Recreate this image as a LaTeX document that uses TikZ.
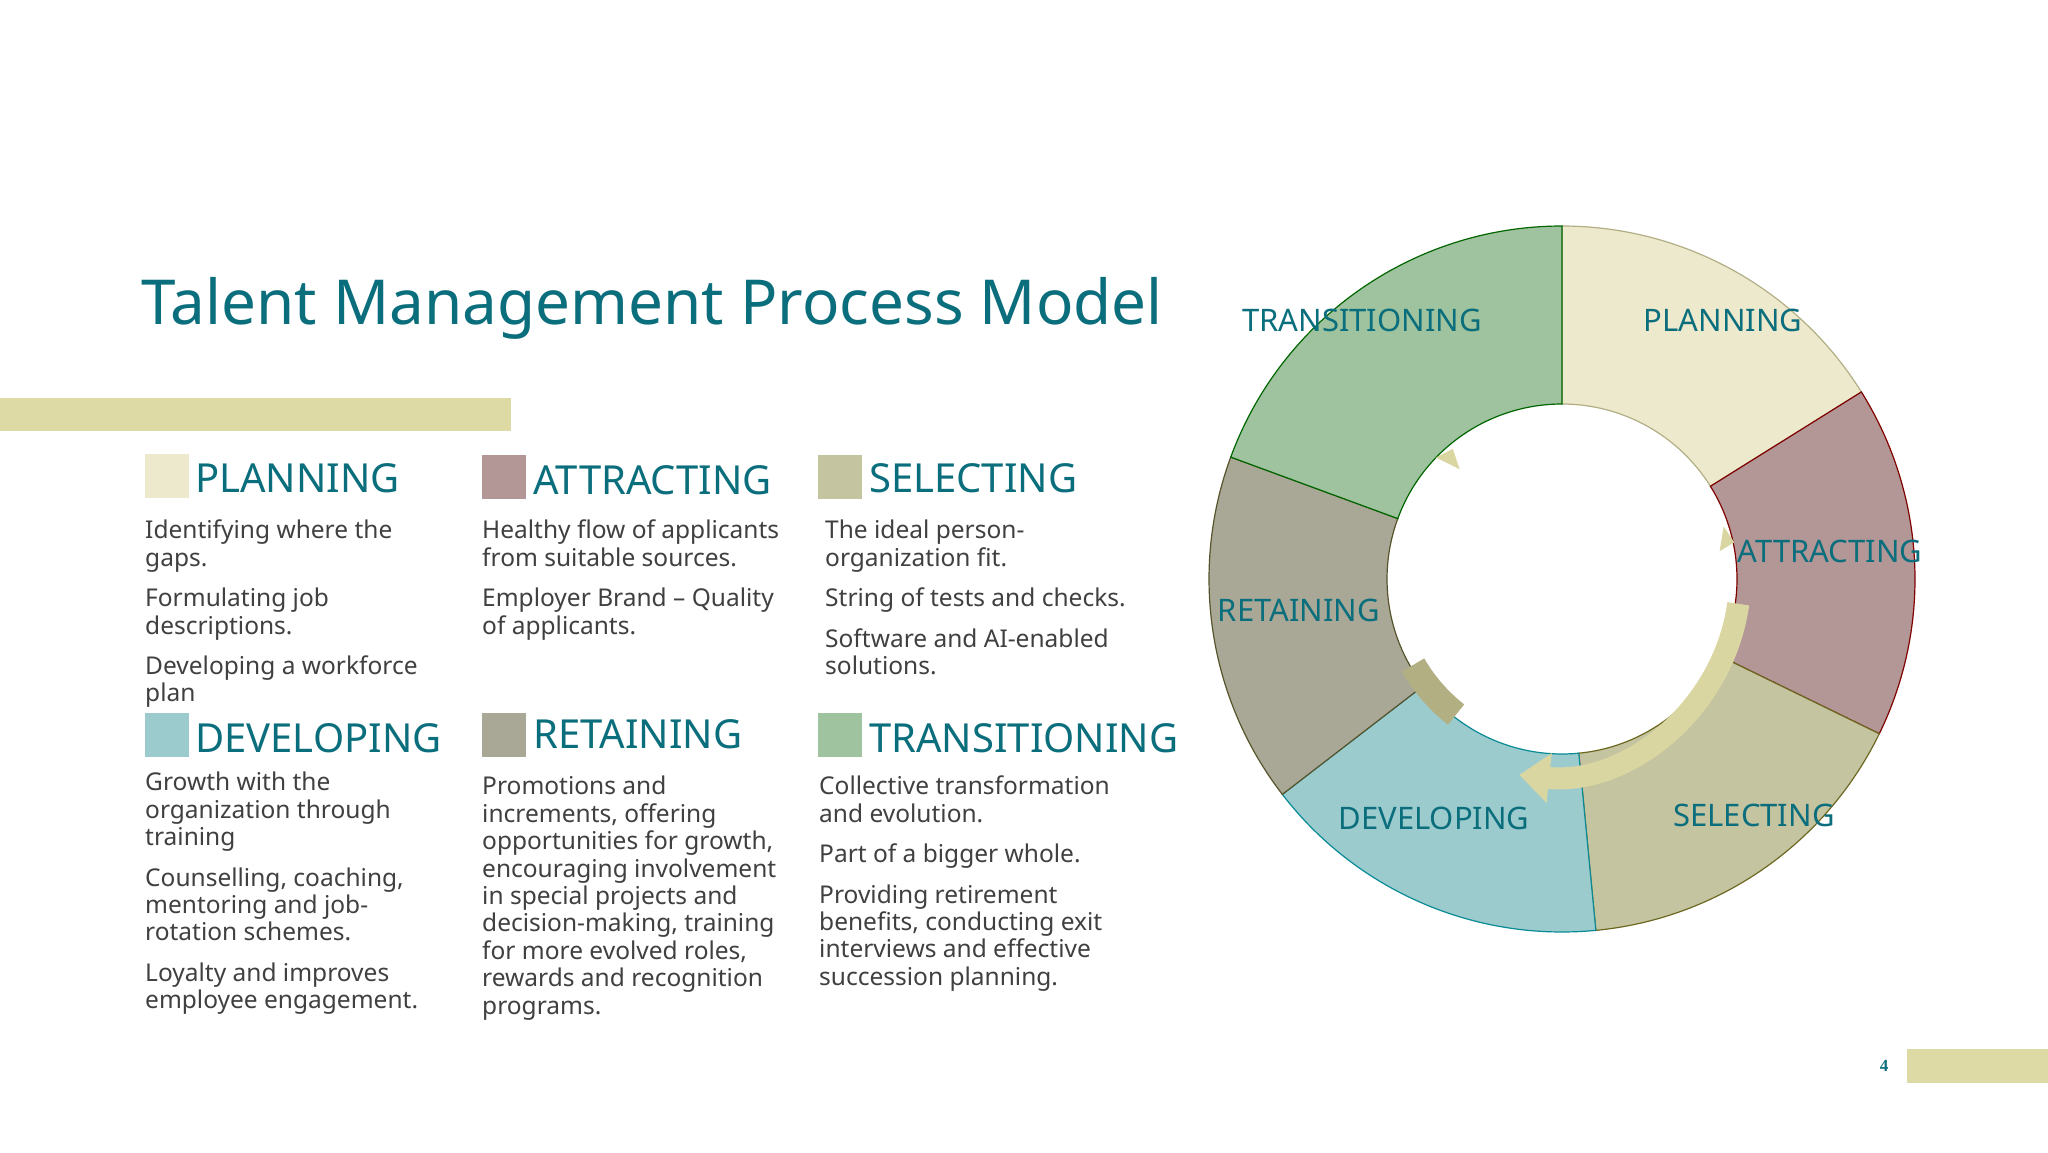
\documentclass[tikz,border=0pt]{standalone}
\usepackage{fontspec}
\setmainfont{Noto Sans}
\usetikzlibrary{arrows.meta}
\definecolor{teal}{HTML}{0B6E7C}
\definecolor{body}{HTML}{404040}
\definecolor{cPla}{HTML}{EDE9CC}
\definecolor{cAtt}{HTML}{B39696}
\definecolor{cSel}{HTML}{C5C4A0}
\definecolor{cDev}{HTML}{9CCBCE}
\definecolor{cRet}{HTML}{A9A896}
\definecolor{cTra}{HTML}{9EC39E}
\definecolor{bar}{HTML}{DEDAA6}
\definecolor{arr}{HTML}{DAD6A2}
\definecolor{arrd}{HTML}{B2AF82}
\tikzset{
  head/.style={anchor=base west,inner sep=0,text=teal,font=\fontsize{40}{44}\selectfont},
  sq/.style={minimum size=44pt,inner sep=0,anchor=north west},
  txt/.style={anchor=north west,inner sep=0,text=body,align=left,font=\fontsize{24.5}{27.4}\selectfont},
  dlab/.style={text=teal,font=\fontsize{31}{34}\selectfont,inner sep=0},
}
\newcommand{\pgap}{\\[13pt]}
\newcommand{\seg}[4]{\filldraw[fill=#3,draw=#4,line width=1.2pt] (#1:353) arc (#1:#2:353) -- (#2:175) arc (#2:#1:175) -- cycle;}
\begin{document}
\begin{tikzpicture}[x=1pt,y=-1pt]
\useasboundingbox[fill=white] (0,0) rectangle (2048,1152);
% title
\node[anchor=base west,inner sep=0,text=teal,font=\fontsize{62}{66}\bfseries\selectfont] (title) at (141,324) {Talent Management Process Model};
\fill[bar] (0,398) rectangle (511,431);
\fill[bar] (1907,1049) rectangle (2048,1083);
\node[text=teal,font=\fontsize{17}{20}\bfseries\rmfamily\selectfont] (pg) at (1884,1066) {\fontspec{Liberation Serif}\bfseries 4};
% row 1
\node[sq,fill=cPla] (s1) at (145,454) {};
\node[head] (h1) at (195,492) {PLANNING};
\node[txt] (t1) at (145,520) {Identifying where the\\gaps.\pgap Formulating job\\descriptions.\pgap Developing a workforce\\plan};
\node[sq,fill=cAtt] (s2) at (482,455) {};
\node[head] (h2) at (533,494) {ATTRACTING};
\node[txt] (t2) at (482,520) {Healthy flow of applicants\\from suitable sources.\pgap Employer Brand -- Quality\\of applicants.};
\node[sq,fill=cSel] (s3) at (818,455) {};
\node[head] (h3) at (869,492) {SELECTING};
\node[txt] (t3) at (825,520) {The ideal person-\\organization fit.\pgap String of tests and checks.\pgap Software and AI-enabled\\solutions.};
% row 2
\node[sq,fill=cDev] (s4) at (145,713) {};
\node[head] (h4) at (195,752) {DEVELOPING};
\node[txt] (t4) at (145,772) {Growth with the\\organization through\\training\pgap Counselling, coaching,\\mentoring and job-\\rotation schemes.\pgap Loyalty and improves\\employee engagement.};
\node[sq,fill=cRet] (s5) at (482,713) {};
\node[head] (h5) at (533,748) {RETAINING};
\node[txt] (t5) at (482,776) {Promotions and\\increments, offering\\opportunities for growth,\\encouraging involvement\\in special projects and\\decision-making, training\\for more evolved roles,\\rewards and recognition\\programs.};
\node[sq,fill=cTra] (s6) at (818,713) {};
\node[head] (h6) at (869,752) {TRANSITIONING};
\node[txt] (t6) at (819,776) {Collective transformation\\and evolution.\pgap Part of a bigger whole.\pgap Providing retirement\\benefits, conducting exit\\interviews and effective\\succession planning.};
% donut
\begin{scope}[shift={(1562,579)},yscale=-1]
\seg{90}{32}{cPla}{bar!80!black}
\seg{32}{-26}{cAtt}{red!50!black}
\seg{-26}{-84.5}{cSel}{olive!70!black}
\seg{-84.5}{-142.4}{cDev}{teal!80!cyan}
\seg{-142.4}{-200.2}{cRet}{olive!50!black}
\seg{-200.2}{-270}{cTra}{green!40!black}
\draw[arrd,line width=26pt] (-150:172) arc (-150:-128:172);
\draw[arr,line width=22pt,-{Triangle[length=30pt,width=48pt]}] (-8:178) arc (-8:-96:200);
\fill[arr] (136:175) -- (130:170) -- (133:150) -- cycle;
\fill[arr] (18:170) -- (12:176) -- (10:160) -- cycle;
\end{scope}
\node[dlab] (l1) at (1362,320) {TRANSITIONING};
\node[dlab] (l2) at (1723,320) {PLANNING};
\node[dlab] (l3) at (1830,551) {ATTRACTING};
\node[dlab] (l4) at (1299,610) {RETAINING};
\node[dlab] (l5) at (1434,818) {DEVELOPING};
\node[dlab] (l6) at (1754,815) {SELECTING};
\end{tikzpicture}
\end{document}
